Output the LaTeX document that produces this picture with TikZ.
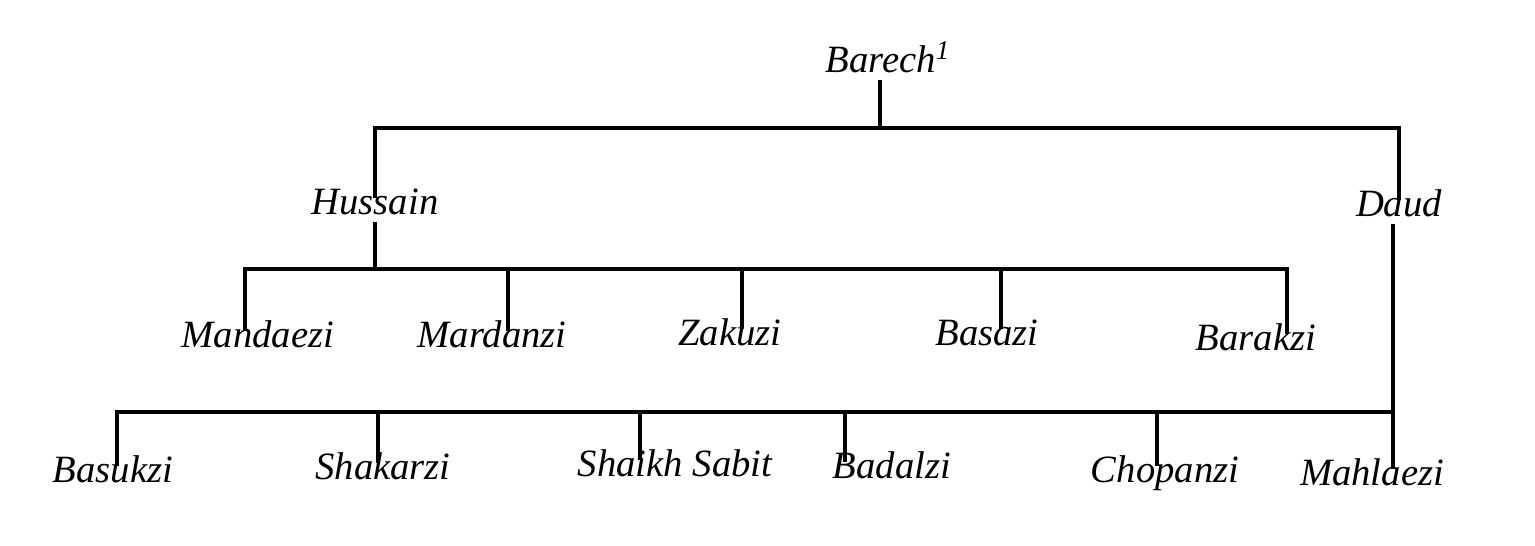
\documentclass[tikz,border=0pt]{standalone}
\usepackage{fontspec}
\setmainfont{Liberation Serif}
\usetikzlibrary{calc}
\tikzstyle{clan} = [font=\fontsize{22}{26}\selectfont\itshape,
inner sep=2pt,
text height=0.7em,
text depth=0.2em]
\tikzstyle{link} = [line width=2pt]

\begin{document}
\begin{tikzpicture}[x=0.02cm, y=-0.02cm]
        \useasboundingbox (0,0) rectangle (1535,545);
        \node (barech) [clan] at (888,68) {Barech\textsuperscript{1}};
        \node (hussain) [clan] at (375,210) {Hussain};
        \node (daud) [clan] at (1399,212) {Daud};
        \node (mandaezi) [clan] at (258,343) {Mandaezi};
        \node (mardanzi) [clan] at (492,343) {Mardanzi};
        \node (zakuzi) [clan] at (730,341) {Zakuzi};
        \node (basazi) [clan] at (987,341) {Basazi};
        \node (barakzi) [clan] at (1256,346) {Barakzi};
        \node (basukzi) [clan] at (113,478) {Basukzi};
        \node (shakarzi) [clan] at (383,475) {Shakarzi};
        \node (shaikh) [clan] at (675,472) {Shaikh Sabit};
        \node (badalzi) [clan] at (892,474) {Badalzi};
        \node (chopanzi) [clan] at (1165,478) {Chopanzi};
        \node (mahlaezi) [clan] at (1372,481) {Mahlaezi};
        \coordinate (bar1) at (880,128);
        \coordinate (bar2) at (375,269);
        \coordinate (bar3) at (1393,412);
        \coordinate (d-mandaezi) at (245,269);
        \coordinate (d-mardanzi) at (508,269);
        \coordinate (d-zakuzi) at (742,269);
        \coordinate (d-basazi) at (1001,269);
        \coordinate (d-barakzi) at (1287,269);
        \coordinate (d-basukzi) at (117,412);
        \coordinate (d-shakarzi) at (378,412);
        \coordinate (d-shaikh) at (640,412);
        \coordinate (d-badalzi) at (845,412);
        \coordinate (d-chopanzi) at (1157,412);
        % first generation
        \draw [link] (bar1 |- barech.south) -- (bar1);
        \draw [link] (hussain.north) -- (hussain.north |- bar1) -- (daud.north |- bar1) -- (daud.north);
        % sons of Hussain
        \draw [link] (hussain.south) -- (bar2);
        \draw [link] (mandaezi.north -| d-mandaezi) -- (d-mandaezi) -- (d-barakzi) -- (barakzi.north -| d-barakzi);
        \foreach \n in {mardanzi, zakuzi, basazi}
                \draw [link] (d-\n) -- (\n.north -| d-\n);
        % sons of Daud
        \draw [link] (daud.south -| bar3) -- (mahlaezi.north -| bar3);
        \draw [link] (basukzi.north -| d-basukzi) -- (d-basukzi) -- (bar3);
        \foreach \n in {shakarzi, shaikh, badalzi, chopanzi}
                \draw [link] (d-\n) -- (\n.north -| d-\n);
    \end{tikzpicture}
\end{document}
